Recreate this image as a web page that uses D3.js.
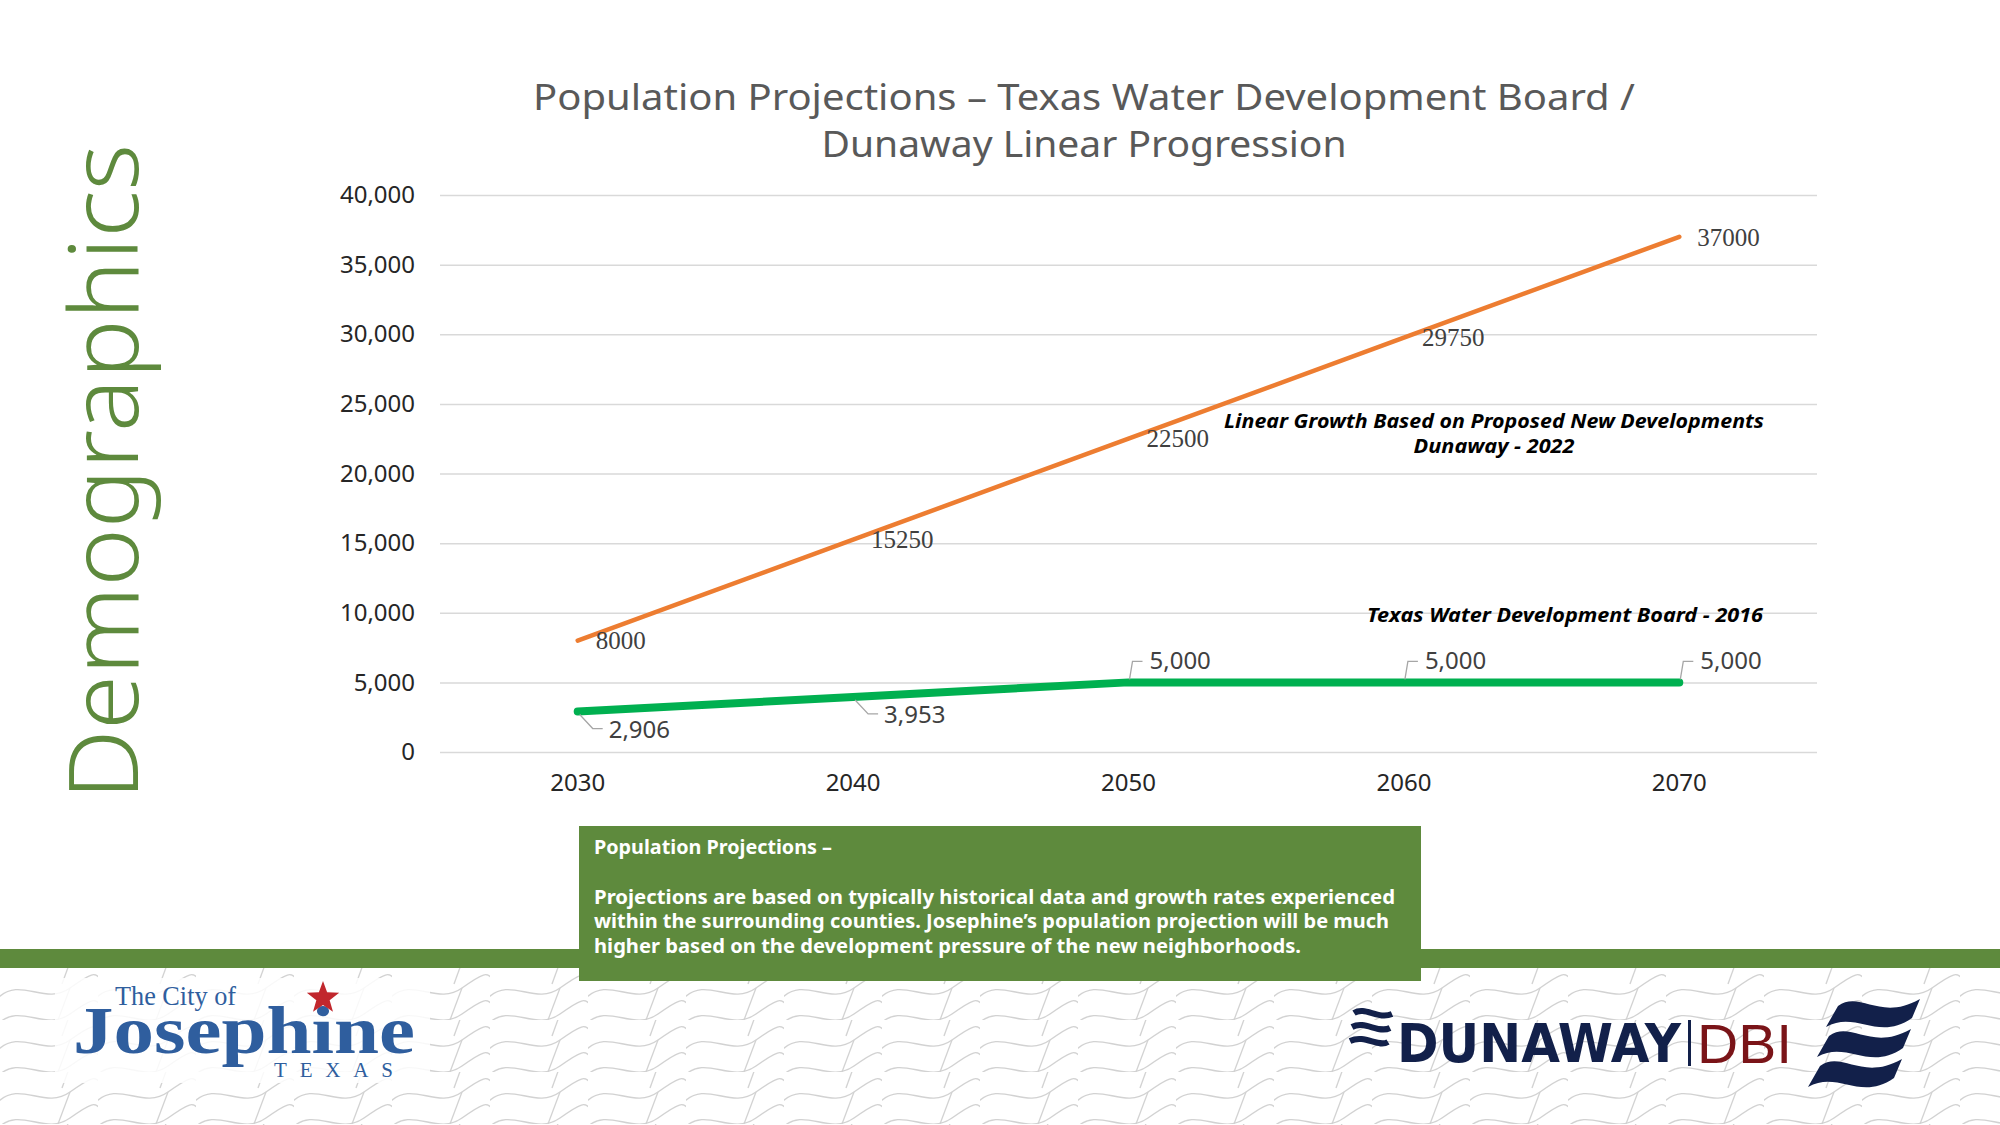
<!DOCTYPE html>
<html>
<head>
<meta charset="utf-8">
<script src="https://cdn.jsdelivr.net/npm/d3@7"></script>
<style>
  html, body { margin: 0; padding: 0; background: #ffffff; }
  svg { display: block; }
</style>
</head>
<body>
<svg id="chart" width="2000" height="1125"></svg>
<script>
// ---- data ----
const years = ["2030", "2040", "2050", "2060", "2070"];
const dunawayValues = [8000, 15250, 22500, 29750, 37000];
const twdbValues = [2906, 3953, 5000, 5000, 5000];
const yTickValues = [0, 5000, 10000, 15000, 20000, 25000, 30000, 35000, 40000];
const titleLines = ["Population Projections \u2013 Texas Water Development Board /", "Dunaway Linear Progression"];
const boxLines = [
  "Population Projections \u2013",
  "",
  "Projections are based on typically historical data and growth rates experienced",
  "within the surrounding counties. Josephine\u2019s population projection will be much",
  "higher based on the development pressure of the new neighborhoods."
];

const svg = d3.select("#chart");
const GREEN = "#5E8A3D";
const FONT = "'Noto Sans', 'Open Sans', sans-serif";

// ---- footer pattern ----
const defs = svg.append("defs");
const pat = defs.append("pattern").attr("id", "waves").attr("patternUnits", "userSpaceOnUse")
  .attr("width", 98).attr("height", 52).attr("x", 0).attr("y", 968);
pat.append("rect").attr("width", 98).attr("height", 52).attr("fill", "#ffffff");
pat.append("path").attr("d", "M-2,30 C20,8 45,38 70,20 S95,6 100,10")
  .attr("fill", "none").attr("stroke", "#d2d2d2").attr("stroke-width", 1.3);
pat.append("path").attr("d", "M-2,56 C20,34 45,64 70,46 S95,32 100,36")
  .attr("fill", "none").attr("stroke", "#d2d2d2").attr("stroke-width", 1.3);
pat.append("path").attr("d", "M70,20 L58,52").attr("fill", "none").attr("stroke", "#d2d2d2").attr("stroke-width", 1.3);
pat.append("path").attr("d", "M70,-6 L62,16").attr("fill", "none").attr("stroke", "#d2d2d2").attr("stroke-width", 1.3);

svg.append("rect").attr("x", 0).attr("y", 966).attr("width", 2000).attr("height", 159).attr("fill", "url(#waves)");
// green band
svg.append("rect").attr("x", 0).attr("y", 949).attr("width", 2000).attr("height", 19).attr("fill", GREEN);

// ---- vertical section heading ----
svg.append("text")
  .attr("transform", "translate(138,800) rotate(-90)")
  .attr("font-family", "'Noto Sans', sans-serif").attr("font-size", 96).attr("font-weight", 300)
  .attr("fill", GREEN)
  .attr("textLength", 656).attr("lengthAdjust", "spacingAndGlyphs")
  .text("Demographics");

// ---- title ----
const titleW = [1102, 525];
titleLines.forEach((t, i) => {
  svg.append("text").attr("x", 1084).attr("y", 110 + i * 47)
    .attr("text-anchor", "middle").attr("font-family", FONT).attr("font-size", 36)
    .attr("fill", "#595959")
    .attr("textLength", titleW[i]).attr("lengthAdjust", "spacingAndGlyphs")
    .text(t);
});

// ---- scales ----
const x = d3.scaleBand().domain(years).range([440, 1817]).padding(0);
const xc = d => x(d) + x.bandwidth() / 2;
const y = d3.scaleLinear().domain([0, 40000]).range([752, 195]);

// gridlines + y labels
const yAxis = d3.axisLeft(y).tickValues(yTickValues).tickFormat(d3.format(","))
  .tickSizeInner(-(1817 - 440)).tickSizeOuter(0).tickPadding(25);
const gy = svg.append("g").attr("transform", "translate(440,0)").call(yAxis);
gy.select(".domain").remove();
gy.selectAll(".tick line").attr("stroke", "#d9d9d9").attr("stroke-width", 1.5);
gy.selectAll(".tick text").attr("font-family", FONT).attr("font-size", 24).attr("fill", "#262626");

// x axis labels
const xAxis = d3.axisBottom(x).tickSize(0).tickPadding(22);
const gx = svg.append("g").attr("transform", "translate(0,752)").call(xAxis);
gx.select(".domain").remove();
gx.selectAll(".tick text").attr("font-family", FONT).attr("font-size", 24).attr("fill", "#262626");

// ---- lines ----
const line = d3.line().x(d => xc(d.year)).y(d => y(d.value));
const dunData = years.map((yr, i) => ({ year: yr, value: dunawayValues[i] }));
const twdbData = years.map((yr, i) => ({ year: yr, value: twdbValues[i] }));

svg.append("path").datum(dunData).attr("d", line)
  .attr("fill", "none").attr("stroke", "#ED7D31").attr("stroke-width", 4.5).attr("stroke-linecap", "round");
svg.append("path").datum(twdbData).attr("d", line)
  .attr("fill", "none").attr("stroke", "#00B050").attr("stroke-width", 8).attr("stroke-linecap", "round");

// orange data labels (serif)
svg.selectAll(".dlab").data(dunData).enter().append("text")
  .attr("x", d => xc(d.year) + 18).attr("y", d => y(d.value))
  .attr("dy", "0.35em")
  .attr("font-family", "'Liberation Serif', 'DejaVu Serif', serif").attr("font-size", 25)
  .attr("fill", "#404040")
  .text(d => d.value);

// green data labels with leader lines
twdbData.forEach((d, i) => {
  const px = xc(d.year), py = y(d.value);
  const below = i < 2;
  if (below) {
    svg.append("path").attr("d", `M${px + 2},${py + 3} L${px + 15},${py + 17} L${px + 25},${py + 17}`)
      .attr("fill", "none").attr("stroke", "#a6a6a6").attr("stroke-width", 1.3);
    svg.append("text").attr("x", px + 31).attr("y", py + 18).attr("dy", "0.35em")
      .attr("font-family", FONT).attr("font-size", 24).attr("fill", "#404040")
      .text(d3.format(",")(d.value));
  } else {
    svg.append("path").attr("d", `M${px + 1},${py - 3} L${px + 4},${py - 21} L${px + 14},${py - 21}`)
      .attr("fill", "none").attr("stroke", "#a6a6a6").attr("stroke-width", 1.3);
    svg.append("text").attr("x", px + 21).attr("y", py - 22).attr("dy", "0.35em")
      .attr("font-family", FONT).attr("font-size", 24).attr("fill", "#404040")
      .text(d3.format(",")(d.value));
  }
});

// ---- annotations ----
const ann = [
  { t: "Linear Growth Based on Proposed New Developments", x: 1494, y: 428, w: 540 },
  { t: "Dunaway - 2022", x: 1494, y: 453, w: 161 },
  { t: "Texas Water Development Board - 2016", x: 1565, y: 622, w: 396 }
];
ann.forEach(a => {
  svg.append("text").attr("x", a.x).attr("y", a.y).attr("text-anchor", "middle")
    .attr("font-family", FONT).attr("font-size", 19).attr("font-weight", "bold").attr("font-style", "italic")
    .attr("fill", "#000000")
    .attr("textLength", a.w).attr("lengthAdjust", "spacingAndGlyphs")
    .text(a.t);
});

// ---- text box ----
svg.append("rect").attr("x", 579).attr("y", 826).attr("width", 842).attr("height", 155).attr("fill", GREEN);
const boxW = [238, 0, 801, 795, 707];
const boxY = [854, 0, 904, 928, 953];
boxLines.forEach((t, i) => {
  if (!t) return;
  svg.append("text").attr("x", 594).attr("y", boxY[i])
    .attr("font-family", FONT).attr("font-size", 19).attr("font-weight", "bold").attr("fill", "#ffffff")
    .attr("textLength", boxW[i]).attr("lengthAdjust", "spacingAndGlyphs")
    .text(t);
});

// ---- Josephine logo (one text element, stacked lines) ----
svg.append("rect").attr("x", 55).attr("y", 978).attr("width", 375).attr("height", 105).attr("fill", "#ffffff").attr("opacity", 0.85);
const BLUE = "#2F5E9E";
const logo = svg.append("text").attr("font-family", "'Liberation Serif', serif").attr("fill", BLUE);
logo.append("tspan").attr("x", 115).attr("y", 1005).attr("font-size", 27)
  .attr("textLength", 121).attr("lengthAdjust", "spacingAndGlyphs").text("The City of");
logo.append("tspan").attr("x", 73).attr("y", 1053).attr("font-size", 68).attr("font-weight", "bold")
  .attr("textLength", 342).attr("lengthAdjust", "spacingAndGlyphs").text("Josephine");
logo.append("tspan").attr("x", 274).attr("y", 1077).attr("font-size", 21)
  .attr("textLength", 119).attr("lengthAdjust", "spacing").text("TEXAS");
// star
const star = d3.range(10).map(k => {
  const r = k % 2 === 0 ? 17 : 7;
  const a = -Math.PI / 2 + k * Math.PI / 5;
  return [323 + r * Math.cos(a), 998 + r * Math.sin(a)];
});
svg.append("polygon").attr("points", star.map(p => p.join(",")).join(" ")).attr("fill", "#C1272D");

// ---- Dunaway logo ----
const NAVY = "#12204A";
// small waves left
[0, 1, 2].forEach(k => {
  svg.append("path")
    .attr("d", `M${1354 - k * 2},${1013 + k * 14} C${1365},${1006 + k * 14} ${1378},${1020 + k * 14} ${1392 - k * 2},${1014 + k * 14}`)
    .attr("fill", "none").attr("stroke", NAVY).attr("stroke-width", 6).attr("stroke-linecap", "butt");
});
svg.append("text").attr("x", 1397).attr("y", 1062).attr("font-family", "'DejaVu Sans', sans-serif")
  .attr("font-size", 54).attr("font-weight", "bold").attr("fill", NAVY)
  .attr("textLength", 284).attr("lengthAdjust", "spacingAndGlyphs").text("DUNAWAY");
svg.append("rect").attr("x", 1688).attr("y", 1020).attr("width", 3).attr("height", 46).attr("fill", NAVY);
svg.append("text").attr("x", 1697).attr("y", 1063).attr("font-family", "'Liberation Sans Narrow', 'Liberation Sans', sans-serif")
  .attr("font-size", 56).attr("fill", "#7A1418")
  .attr("textLength", 95).attr("lengthAdjust", "spacingAndGlyphs").text("DBI");
// big waves right
[0, 1, 2].forEach(k => {
  const ox = -k * 9, oy = k * 30;
  svg.append("path")
    .attr("d", `M${1838 + ox},${1006 + oy} C${1860 + ox},${990 + oy} ${1880 + ox},${1022 + oy} ${1920 + ox},${999 + oy}`
      + ` L${1912 + ox},${1018 + oy} C${1878 + ox},${1042 + oy} ${1856 + ox},${1010 + oy} ${1826 + ox},${1027 + oy} Z`)
    .attr("fill", NAVY);
});
</script>
</body>
</html>
